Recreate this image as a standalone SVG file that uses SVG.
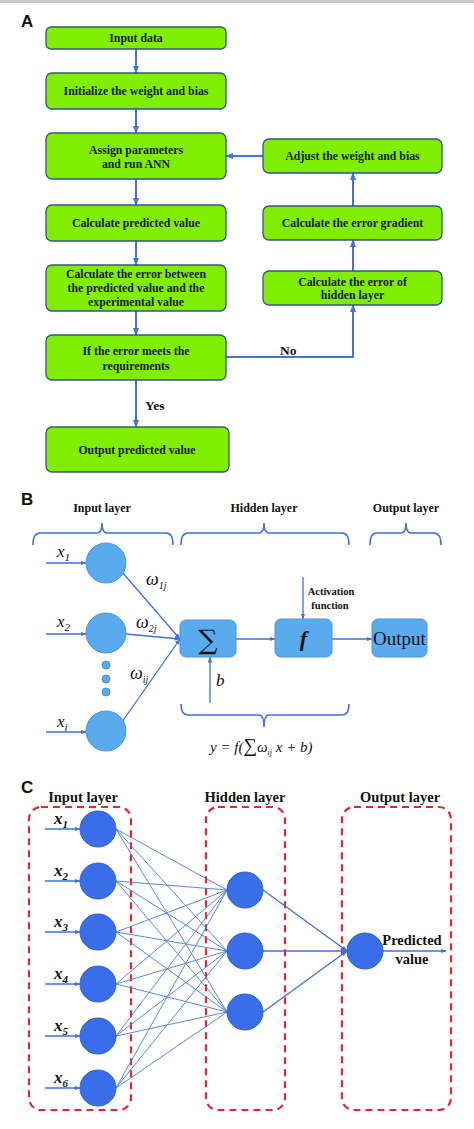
<svg xmlns="http://www.w3.org/2000/svg" width="474" height="1129" viewBox="0 0 474 1129">
<style>
.box{fill:#80ee00;stroke:#35548f;stroke-width:1.3}
.bt{font-family:"Liberation Serif",serif;font-weight:bold;font-size:11.8px;fill:#1a1a1a;text-anchor:middle}
.lbl{font-family:"Liberation Serif",serif;font-weight:bold;font-size:13.5px;fill:#111}
.pan{font-family:"Liberation Sans",sans-serif;font-weight:bold;font-size:17px;fill:#111}
.arr{fill:none;stroke:#4472e6;stroke-width:2}
.bl{fill:#5aaaee;stroke:#4a95dd;stroke-width:1}
.ln{fill:none;stroke:#3f6fe0;stroke-width:1.3}
.brace{fill:none;stroke:#3f6fe0;stroke-width:1.6}
.hd{font-family:"Liberation Serif",serif;font-weight:bold;font-size:12px;fill:#111;text-anchor:middle}
.mi{font-family:"Liberation Serif",serif;font-style:italic;fill:#111}
.cc{fill:#3a6ee8;stroke:#2d5fd6;stroke-width:1}
.cl{fill:none;stroke:#4a7ae6;stroke-width:0.9}
.dash{fill:none;stroke:#e8242c;stroke-width:2.2;stroke-dasharray:7 5}
.ch{font-family:"Liberation Serif",serif;font-weight:bold;font-size:14.5px;fill:#111;text-anchor:middle}
.xb{font-family:"Liberation Serif",serif;font-style:italic;font-weight:bold;fill:#111}
</style>
<defs>
<marker id="ah" markerWidth="8" markerHeight="8" refX="7" refY="4" orient="auto" markerUnits="userSpaceOnUse"><path d="M0,1 L8,4 L0,7 Z" fill="#4472e6"/></marker>
<marker id="ahs" markerWidth="6" markerHeight="6" refX="5.5" refY="3" orient="auto" markerUnits="userSpaceOnUse"><path d="M0,0.8 L6,3 L0,5.2 Z" fill="#3f6fe0"/></marker>
</defs>
<rect x="0" y="0" width="474" height="1129" fill="#ffffff"/>
<rect x="0" y="0" width="474" height="3" fill="#c9c9c9"/>

<!-- Panel A -->
<text class="pan" x="21" y="27">A</text>
<g id="connectors-a">
<line class="arr" x1="136" y1="49" x2="136" y2="73" marker-end="url(#ah)"/>
<line class="arr" x1="136" y1="109" x2="136" y2="133" marker-end="url(#ah)"/>
<line class="arr" x1="136" y1="179" x2="136" y2="205" marker-end="url(#ah)"/>
<line class="arr" x1="136" y1="241" x2="136" y2="265" marker-end="url(#ah)"/>
<line class="arr" x1="136" y1="311" x2="136" y2="335" marker-end="url(#ah)"/>
<line class="arr" x1="136" y1="380" x2="136" y2="427" marker-end="url(#ah)"/>
<polyline class="arr" points="226,357 353,357 353,305" marker-end="url(#ah)"/>
<line class="arr" x1="353" y1="271" x2="353" y2="240" marker-end="url(#ah)"/>
<line class="arr" x1="353" y1="206" x2="353" y2="173" marker-end="url(#ah)"/>
<line class="arr" x1="263" y1="156" x2="226" y2="156" marker-end="url(#ah)"/>
<text class="lbl" x="280" y="355">No</text>
<text class="lbl" x="145" y="410">Yes</text>
</g>
<g id="a-input"><rect class="box" x="46" y="27" width="180" height="22" rx="5"/><text class="bt" x="136" y="42">Input data</text></g>
<g id="a-init"><rect class="box" x="46" y="73" width="180" height="36" rx="6"/><text class="bt" x="136" y="95">Initialize the weight and bias</text></g>
<g id="a-assign"><rect class="box" x="46" y="133" width="180" height="46" rx="6"/><text class="bt" x="136" y="154">Assign parameters</text><text class="bt" x="136" y="168">and run ANN</text></g>
<g id="a-calcpred"><rect class="box" x="46" y="205" width="180" height="36" rx="6"/><text class="bt" x="136" y="227">Calculate predicted value</text></g>
<g id="a-calcerr"><rect class="box" x="46" y="265" width="180" height="46" rx="6"/><text class="bt" x="136" y="278">Calculate the error between</text><text class="bt" x="136" y="292">the predicted value and the</text><text class="bt" x="136" y="306">experimental value</text></g>
<g id="a-iferr"><rect class="box" x="46" y="335" width="180" height="45" rx="6"/><text class="bt" x="136" y="355">If the error meets the</text><text class="bt" x="136" y="370">requirements</text></g>
<g id="a-output"><rect class="box" x="46" y="427" width="183" height="45" rx="6"/><text class="bt" x="137" y="454">Output predicted value</text></g>
<g id="a-adjust"><rect class="box" x="263" y="139" width="179" height="34" rx="6"/><text class="bt" x="352.5" y="160">Adjust the weight and bias</text></g>
<g id="a-gradient"><rect class="box" x="263" y="206" width="179" height="34" rx="6"/><text class="bt" x="352.5" y="227">Calculate the error gradient</text></g>
<g id="a-hidden"><rect class="box" x="263" y="271" width="179" height="34" rx="6"/><text class="bt" x="352.5" y="286">Calculate the error of</text><text class="bt" x="352.5" y="299">hidden layer</text></g>

<!-- Panel B -->
<text class="pan" x="21" y="505">B</text>
<text class="hd" x="102" y="512">Input layer</text>
<text class="hd" x="264" y="512">Hidden layer</text>
<text class="hd" x="406" y="512">Output layer</text>
<g id="connectors-b">
<path class="brace" d="M33,545 Q33,533 40,533 L97,533 Q102,533 102,523 Q102,533 107,533 L166,533 Q173,533 173,545"/>
<path class="brace" d="M181,545 Q181,533 188,533 L259,533 Q264,533 264,523 Q264,533 269,533 L342,533 Q349,533 349,545"/>
<path class="brace" d="M370,545 Q370,533 377,533 L401,533 Q406,533 406,523 Q406,533 411,533 L434,533 Q441,533 441,545"/>
<path class="brace" d="M181,704 Q181,715 188,715 L259,715 Q264,715 264,727 Q264,715 269,715 L342,715 Q349,715 349,704"/>
<line class="ln" x1="46" y1="563" x2="86" y2="563" marker-end="url(#ahs)"/>
<line class="ln" x1="46" y1="634" x2="86" y2="634" marker-end="url(#ahs)"/>
<line class="ln" x1="46" y1="732" x2="86" y2="732" marker-end="url(#ahs)"/>
<line class="ln" x1="122" y1="572" x2="180" y2="639" marker-end="url(#ahs)"/>
<line class="ln" x1="126" y1="634" x2="180" y2="639" marker-end="url(#ahs)"/>
<line class="ln" x1="122" y1="722" x2="180" y2="639" marker-end="url(#ahs)"/>
<line class="ln" x1="236" y1="639" x2="275" y2="639" marker-end="url(#ahs)"/>
<line class="ln" x1="332" y1="639" x2="372" y2="639" marker-end="url(#ahs)"/>
<line class="ln" x1="303" y1="577" x2="303" y2="619" marker-end="url(#ahs)"/>
<line class="ln" x1="210" y1="703" x2="210" y2="657" marker-end="url(#ahs)"/>
</g>
<g id="b-in1"><circle class="bl" cx="106" cy="563" r="20"/><text class="mi" x="57" y="557" font-size="17">x<tspan font-size="11" dy="4">1</tspan></text></g>
<g id="b-in2"><circle class="bl" cx="106" cy="633" r="20"/><text class="mi" x="57" y="627" font-size="17">x<tspan font-size="11" dy="4">2</tspan></text></g>
<g id="b-dots"><circle class="bl" cx="106" cy="665" r="4"/><circle class="bl" cx="106" cy="679" r="4"/><circle class="bl" cx="106" cy="692" r="4"/></g>
<g id="b-ini"><circle class="bl" cx="106" cy="731" r="20"/><text class="mi" x="57" y="727" font-size="17">x<tspan font-size="11" dy="4">i</tspan></text></g>
<g id="b-w"><text class="mi" x="146" y="585" font-size="18">ω<tspan font-size="10" dy="4">1j</tspan></text>
<text class="mi" x="136" y="628" font-size="18">ω<tspan font-size="10" dy="4">2j</tspan></text>
<text class="mi" x="130" y="679" font-size="18">ω<tspan font-size="10" dy="4">ij</tspan></text></g>
<g id="b-sum"><rect class="bl" x="180" y="620" width="56" height="37" rx="6"/><text x="208" y="649" font-family="DejaVu Serif,serif" font-size="27" fill="#111" text-anchor="middle">∑</text></g>
<g id="b-f"><rect class="bl" x="275" y="619" width="57" height="38" rx="6"/><text x="303.5" y="646" font-family="Liberation Serif,serif" font-style="italic" font-weight="bold" font-size="22" fill="#111" text-anchor="middle">f</text></g>
<g id="b-out"><rect class="bl" x="372" y="619" width="55" height="38" rx="6"/><text x="399.5" y="645" font-family="Liberation Serif,serif" font-size="19" fill="#111" text-anchor="middle">Output</text></g>
<g id="b-act"><text class="hd" x="331" y="595" style="font-size:10.5px">Activation</text><text class="hd" x="330" y="609" style="font-size:10.5px">function</text></g>
<g id="b-b"><text class="mi" x="216" y="686" font-size="17">b</text></g>
<g id="b-formula"><text class="mi" x="210" y="752" font-size="15">y = f(<tspan font-style="normal" font-size="19">∑</tspan>ω<tspan font-size="8" dy="3">ij</tspan><tspan dy="-3"> x + b)</tspan></text></g>

<!-- Panel C -->
<text class="pan" x="21" y="793">C</text>
<text class="ch" x="83" y="802">Input layer</text>
<text class="ch" x="245" y="802">Hidden layer</text>
<text class="ch" x="400" y="802">Output layer</text>
<g id="c-frames">
<rect class="dash" x="29" y="807" width="102" height="303" rx="12"/>
<rect class="dash" x="206" y="807" width="79" height="303" rx="12"/>
<rect class="dash" x="342" y="807" width="109" height="303" rx="12"/>
</g>
<g id="connectors-c">
<line class="cl" x1="116" y1="829" x2="227" y2="890"/><line class="cl" x1="116" y1="829" x2="227" y2="951"/><line class="cl" x1="116" y1="829" x2="227" y2="1012"/>
<line class="cl" x1="116" y1="881" x2="227" y2="890"/><line class="cl" x1="116" y1="881" x2="227" y2="951"/><line class="cl" x1="116" y1="881" x2="227" y2="1012"/>
<line class="cl" x1="116" y1="932" x2="227" y2="890"/><line class="cl" x1="116" y1="932" x2="227" y2="951"/><line class="cl" x1="116" y1="932" x2="227" y2="1012"/>
<line class="cl" x1="116" y1="984" x2="227" y2="890"/><line class="cl" x1="116" y1="984" x2="227" y2="951"/><line class="cl" x1="116" y1="984" x2="227" y2="1012"/>
<line class="cl" x1="116" y1="1036" x2="227" y2="890"/><line class="cl" x1="116" y1="1036" x2="227" y2="951"/><line class="cl" x1="116" y1="1036" x2="227" y2="1012"/>
<line class="cl" x1="116" y1="1088" x2="227" y2="890"/><line class="cl" x1="116" y1="1088" x2="227" y2="951"/><line class="cl" x1="116" y1="1088" x2="227" y2="1012"/>
<line class="ln" x1="263" y1="890" x2="347" y2="951" marker-end="url(#ahs)"/>
<line class="ln" x1="263" y1="951" x2="347" y2="951" marker-end="url(#ahs)"/>
<line class="ln" x1="263" y1="1012" x2="347" y2="951" marker-end="url(#ahs)"/>
<line class="ln" x1="383" y1="951" x2="446" y2="951" marker-end="url(#ahs)"/>
<line class="ln" x1="45" y1="829" x2="80" y2="829" marker-end="url(#ahs)"/>
<line class="ln" x1="45" y1="881" x2="80" y2="881" marker-end="url(#ahs)"/>
<line class="ln" x1="45" y1="932" x2="80" y2="932" marker-end="url(#ahs)"/>
<line class="ln" x1="45" y1="984" x2="80" y2="984" marker-end="url(#ahs)"/>
<line class="ln" x1="45" y1="1036" x2="80" y2="1036" marker-end="url(#ahs)"/>
<line class="ln" x1="45" y1="1088" x2="80" y2="1088" marker-end="url(#ahs)"/>
</g>
<g id="c-in1"><circle class="cc" cx="98" cy="829" r="18"/><text class="xb" x="54" y="824" font-size="17">x<tspan font-size="11" dy="4">1</tspan></text></g>
<g id="c-in2"><circle class="cc" cx="98" cy="881" r="18"/><text class="xb" x="54" y="876" font-size="17">x<tspan font-size="11" dy="4">2</tspan></text></g>
<g id="c-in3"><circle class="cc" cx="98" cy="932" r="18"/><text class="xb" x="54" y="927" font-size="17">x<tspan font-size="11" dy="4">3</tspan></text></g>
<g id="c-in4"><circle class="cc" cx="98" cy="984" r="18"/><text class="xb" x="54" y="979" font-size="17">x<tspan font-size="11" dy="4">4</tspan></text></g>
<g id="c-in5"><circle class="cc" cx="98" cy="1036" r="18"/><text class="xb" x="54" y="1031" font-size="17">x<tspan font-size="11" dy="4">5</tspan></text></g>
<g id="c-in6"><circle class="cc" cx="98" cy="1088" r="18"/><text class="xb" x="54" y="1083" font-size="17">x<tspan font-size="11" dy="4">6</tspan></text></g>
<g id="c-h1"><circle class="cc" cx="245" cy="890" r="18"/></g>
<g id="c-h2"><circle class="cc" cx="245" cy="951" r="18"/></g>
<g id="c-h3"><circle class="cc" cx="245" cy="1012" r="18"/></g>
<g id="c-out"><circle class="cc" cx="365" cy="951" r="18"/><text class="ch" x="412" y="945">Predicted</text><text class="ch" x="412" y="964">value</text></g>
</svg>
